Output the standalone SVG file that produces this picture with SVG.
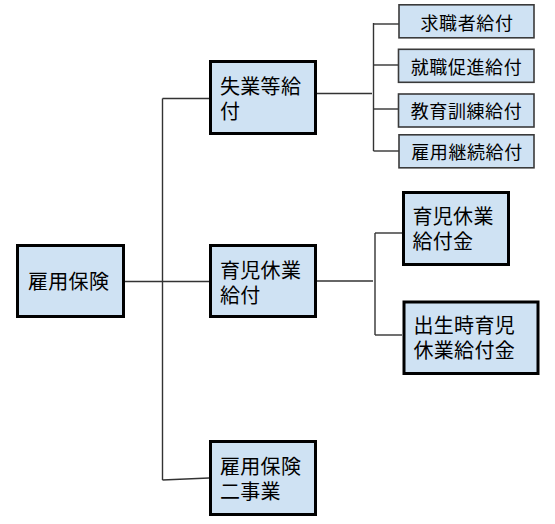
<svg xmlns="http://www.w3.org/2000/svg" width="555" height="524" viewBox="0 0 555 524">
<style>
.box{fill:#cfe2f3;stroke:#000;stroke-width:3}
.sbox{fill:#cfe2f3;stroke:#3a3a3a;stroke-width:1.6}
.t{font-family:"Noto Sans CJK JP","Noto Sans CJK SC",sans-serif;font-size:20px;letter-spacing:0.3px;fill:#000}
.st{font-family:"Noto Sans CJK JP","Noto Sans CJK SC",sans-serif;font-size:18px;letter-spacing:0.6px;fill:#000;text-anchor:middle}
.c{fill:none;stroke:#333;stroke-width:1.4}
</style>
<rect width="555" height="524" fill="#fff"/>
<g id="connectors">
<path class="c" d="M125 281.5 H209"/>
<path class="c" d="M162.5 98.5 V480"/>
<path class="c" d="M162.5 98.5 H209"/>
<path class="c" d="M162.5 480 L209 478"/>
<path class="c" d="M317 93.5 H372"/>
<path class="c" d="M373.5 23 V151"/>
<path class="c" d="M373.5 24 H399"/>
<path class="c" d="M373.5 65 H398"/>
<path class="c" d="M373.5 109 H398"/>
<path class="c" d="M373.5 151 H399"/>
<path class="c" d="M317 281 H373"/>
<path class="c" d="M375 233 V335"/>
<path class="c" d="M375 233 H402"/>
<path class="c" d="M375 335 H402"/>
</g>
<g id="n-root">
<rect class="box" x="17.5" y="245.5" width="106" height="71"/>
<text class="t" x="28" y="289">雇用保険</text>
</g>
<g id="n-shitsugyo">
<rect class="box" x="210.5" y="61.5" width="105" height="72"/>
<text class="t" x="220" y="93.5">失業等給<tspan x="220" dy="25">付</tspan></text>
</g>
<g id="n-ikuji">
<rect class="box" x="210.5" y="245.5" width="105" height="71"/>
<text class="t" x="220" y="278">育児休業<tspan x="220" dy="25">給付</tspan></text>
</g>
<g id="n-niji">
<rect class="box" x="210.5" y="441.5" width="105" height="73"/>
<text class="t" x="220" y="474">雇用保険<tspan x="220" dy="25">二事業</tspan></text>
</g>
<g id="n-kyushoku">
<rect class="sbox" x="399" y="4.8" width="135" height="33"/>
<text class="st" x="467" y="30">求職者給付</text>
</g>
<g id="n-shushoku">
<rect class="sbox" x="398.5" y="49.3" width="135.5" height="33"/>
<text class="st" x="466.5" y="73.5">就職促進給付</text>
</g>
<g id="n-kyoiku">
<rect class="sbox" x="398.5" y="94" width="135.5" height="33"/>
<text class="st" x="466.5" y="117.5">教育訓練給付</text>
</g>
<g id="n-keizoku">
<rect class="sbox" x="399" y="134.8" width="135" height="33"/>
<text class="st" x="467" y="158.5">雇用継続給付</text>
</g>
<g id="n-ikujikyufu">
<rect class="box" x="403.5" y="192.5" width="105" height="72"/>
<text class="t" x="412.5" y="224">育児休業<tspan x="412.5" dy="25">給付金</tspan></text>
</g>
<g id="n-shussei">
<rect class="box" x="404" y="302" width="134" height="71.5"/>
<text class="t" x="413.5" y="333">出生時育児<tspan x="413.5" dy="25">休業給付金</tspan></text>
</g>
</svg>
